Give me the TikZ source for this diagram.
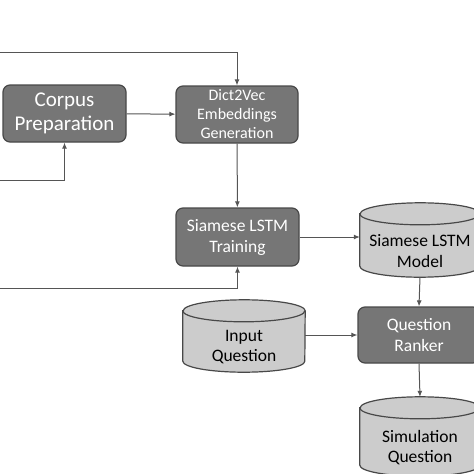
\documentclass[tikz,border=0pt]{standalone}
\usepackage{fontspec}
\setmainfont{Carlito}
\usetikzlibrary{arrows.meta,backgrounds}
\definecolor{boxdark}{RGB}{118,118,118}
\definecolor{boxline}{RGB}{72,72,72}
\definecolor{dbfill}{RGB}{204,204,204}
\definecolor{wire}{RGB}{85,85,85}
% cylinder round the text area of node #1, half width #2
\newcommand{\dbcan}[2]{%
  \draw[dbline] ([yshift=11pt]#1.north west) -- ([yshift=11pt]#1.south west)
    arc[start angle=180, end angle=360, x radius=#2, y radius=11pt]
    -- ([yshift=11pt]#1.north east)
    arc[start angle=0, end angle=180, x radius=#2, y radius=11pt] -- cycle;
  \draw[dbline, fill=none] ([yshift=11pt]#1.north west)
    arc[start angle=180, end angle=360, x radius=#2, y radius=11pt];}
\begin{document}
\begin{tikzpicture}[x=1pt,y=-1pt,
  proc/.style={draw=boxline, line width=1.2pt, fill=boxdark, rounded corners=7pt,
    text=white, align=center, inner sep=0pt},
  db/.style={align=center, inner sep=0pt, font=\fontsize{17.5}{20.5}\selectfont},
  dbline/.style={draw=boxline, line width=1.2pt, fill=dbfill},
  wire/.style={draw=wire, line width=1pt, -{Latex[length=6pt,width=5pt]}}]
\useasboundingbox (0,0) rectangle (474,474);
\clip (0,0) rectangle (474,474);

% processing boxes
\node[proc, minimum width=123pt, minimum height=57pt, font=\fontsize{21}{24}\selectfont]
  (corpus) at (64.5,113.5) {Corpus\\Preparation};
\node[proc, minimum width=122pt, minimum height=57pt, font=\fontsize{16}{19}\selectfont]
  (dict) at (237,114.5) {Dict2Vec\\Embeddings\\Generation};
\node[proc, minimum width=123pt, minimum height=58pt, font=\fontsize{17.5}{21}\selectfont]
  (train) at (237.5,237) {Siamese LSTM\\Training};
\node[proc, minimum width=122pt, minimum height=56pt, font=\fontsize{17.5}{21}\selectfont]
  (ranker) at (419,335) {Question\\Ranker};

% data stores (text area below the top ellipse)
\node[db, minimum width=120pt, minimum height=52pt] (model) at (420,251) {Siamese LSTM\\Model};
\node[db, minimum width=122pt, minimum height=50pt] (input) at (244,347) {Input\\Question};
\node[db, minimum width=120pt, minimum height=57pt] (sim) at (420,447.5) {Simulation\\Question};
\begin{scope}[on background layer]
\dbcan{model}{60pt}
\dbcan{input}{61pt}
\dbcan{sim}{60pt}
\end{scope}

% lines coming in from the left
\coordinate (in1) at (0,52);
\coordinate (in2) at (0,180);
\coordinate (in3) at (0,288);
\draw[wire] (in1) -| (dict.north);
\draw[wire] (in2) -| (corpus.south);
\draw[wire] (in3) -| (train.south);

% main flow
\draw[wire] (corpus) -- (dict);
\draw[wire] (dict) -- (train);
\draw[wire] (train) -- (train -| model.west);
\draw[wire] (model.south) -- (ranker.north);
\draw[wire] (ranker -| input.east) -- (ranker.west);
\draw[wire] (ranker.south) -- ([yshift=22pt]sim.north);
\end{tikzpicture}
\end{document}
